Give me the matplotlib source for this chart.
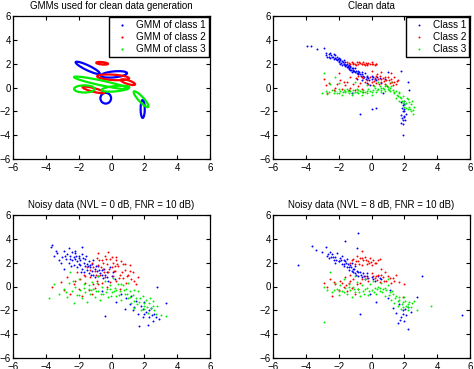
import numpy as np
import matplotlib
matplotlib.use("Agg")
import matplotlib.pyplot as plt
from matplotlib.patches import Ellipse

# ---------------- data ----------------
cls_colors = ['#0000ff', '#ff0000', '#00ee00']

# GMM components: centre x, centre y, width, height, angle (deg)
gmm1 = [(-1.45, 1.65, 1.75, 0.38, -34), (0.15, 1.1, 1.6, 0.5, 8),
        (-0.35, -0.9, 0.65, 0.9, 0), (1.9, -1.8, 0.25, 1.5, 0)]
gmm2 = [(-0.57, 2.03, 0.72, 0.2, -8), (0.1, 0.85, 1.95, 0.45, -5),
        (1.0, 0.45, 0.95, 0.3, -25), (-1.1, -0.2, 1.4, 0.3, -20)]
gmm3 = [(-0.64, 0.39, 3.42, 0.4, -16.6), (-1.65, -0.12, 1.26, 0.6, 0),
        (0.24, -0.1, 1.7, 0.45, 8), (1.8, -0.98, 1.56, 0.35, -57)]

clean1 = [(-3.9,3.5),(-3.7,3.5),(-3.3,3.2),(-2.9,3.3),(-2.8,2.9),(-2.7,2.6),(-2.6,2.8),(-2.5,2.5),(-2.5,2.9),(-2.4,2.6),
          (-2.3,2.4),(-2.3,2.8),(-2.2,2.5),(-2.1,2.3),(-2.1,2.6),(-2.0,2.2),(-2.0,2.5),(-1.9,2.4),(-1.9,2.0),(-1.8,2.2),
          (-1.8,1.9),(-1.7,2.3),(-1.7,2.0),(-1.6,1.8),(-1.6,2.1),(-1.5,1.7),(-1.5,2.0),(-1.4,1.6),(-1.4,1.9),(-1.3,1.5),
          (-1.3,1.8),(-1.2,1.6),(-1.2,1.3),(-1.1,1.5),(-1.0,1.3),(-1.0,1.6),(-0.9,1.2),(-0.8,1.4),(-0.7,1.1),(-0.6,1.3),
          (-0.5,1.0),(-0.4,1.2),(-0.3,0.9),(-0.2,0.8),(0.0,0.7),(0.1,0.9),(0.3,0.6),(0.5,0.8),(-0.6,0.6),(-0.9,0.7),
          (-2.2,2.7),(-1.9,2.3),(-1.6,1.9),(-1.3,1.7),(-1.1,1.4),(-0.8,1.2),(-2.6,2.6),(-1.45,1.8),(-0.35,0.7),(0.2,0.7),
          (-2.75,2.75),(-2.45,2.7),(-2.35,2.55),(-2.15,2.4),(-2.05,2.35),(-1.95,2.15),(-1.85,2.05),(-1.75,2.1),(-1.65,1.95),
          (-1.55,1.85),(-1.45,1.7),(-1.35,1.55),(-1.25,1.45),(-1.15,1.6),(-1.05,1.4),(-0.95,1.35),(-0.85,1.1),(-0.75,1.3),
          (-0.65,1.0),(-0.55,1.15),(-0.45,0.9),(-0.25,1.0),(-0.15,0.6),(0.05,1.0),(0.35,0.85),(0.6,0.4),(0.8,0.7),(-0.3,0.4),
          (1.8,-1.2),(1.9,-1.5),(2.0,-1.8),(1.9,-2.0),(1.8,-2.3),(2.0,-2.5),(1.9,-2.7),(1.8,-3.0),(1.9,-3.1),(2.1,-2.2),
          (2.0,-1.4),(1.9,-4.0),(2.0,-2.0),(1.85,-1.7),(2.05,-2.7),(1.95,-2.35),(1.85,-2.6),(1.95,-1.1),
          (-0.7,-2.2),(0.0,-1.8),(0.3,-1.7),(1.0,1.3),(1.8,1.4),(2.2,0.5),(2.3,-0.2),(-0.1,0.2),(0.7,-0.5),(-1.2,-0.5)]
clean2 = [(-1.5,2.1),(-1.3,2.0),(-1.2,2.1),(-1.0,2.0),(-0.9,2.1),(-0.8,1.95),(-0.7,2.05),(-0.6,2.0),(-0.5,2.1),(-0.4,1.9),
          (-0.3,2.0),(-0.2,2.05),(-0.1,1.95),(0.0,2.0),(0.2,1.9),(0.3,1.95),(-1.1,1.95),(-0.45,2.0),(0.1,2.0),
          (-1.4,2.05),(-1.15,2.05),(-0.95,1.9),(-0.75,2.1),(-0.55,1.95),(-0.35,2.05),(-0.25,1.9),(0.05,2.1),(0.25,2.0),
          (-0.8,1.0),(-0.5,0.8),(-0.3,0.6),(-0.1,0.9),(0.0,0.5),(0.2,0.8),(0.3,0.4),(0.4,0.7),(0.5,1.0),(0.6,0.5),
          (0.7,0.8),(0.8,0.3),(0.9,0.6),(1.0,0.9),(1.1,0.4),(1.2,0.7),(1.3,0.2),(1.4,0.5),(1.5,0.3),(1.6,0.6),
          (-0.2,0.3),(0.1,0.2),(0.6,1.3),(1.2,1.2),(0.25,0.95),(0.75,0.55),(-0.6,0.85),
          (-0.4,0.5),(0.15,0.55),(0.35,1.1),(0.45,0.3),(0.55,0.75),(0.85,0.9),(0.95,0.15),(1.05,0.6),(1.25,0.45),
          (1.35,0.85),(1.55,0.55),(-0.7,0.4),(-0.95,0.8),
          (-2.9,0.7),(-2.8,0.2),(-2.6,0.4),(-2.3,-0.2),(-2.1,0.3),(-1.9,0.6),(-1.8,-0.1),(-1.6,0.2),(-1.5,0.5),(-1.3,0.0),
          (-1.1,0.3),(-1.0,-0.2),(-0.8,0.1),(-2.7,-0.5),(-2.0,1.2),(-1.3,0.9),(0.0,1.4),(-0.5,-0.4),
          (-1.7,0.5),(-2.2,0.0),(-1.4,-0.2),(-0.6,-0.1)]
clean3 = [(-3.0,-0.5),(-2.9,1.2),(-2.8,-0.3),(-2.6,-0.4),(-2.5,0.3),(-2.4,-0.2),(-2.2,-0.3),(-2.1,-0.5),(-2.0,-0.1),(-1.9,-0.3),
          (-1.8,-0.6),(-1.7,-0.2),(-1.6,-0.4),(-1.5,-0.1),(-1.4,-0.5),(-1.3,-0.3),(-1.2,-0.6),(-1.1,-0.2),(-1.0,-0.4),(-0.9,-0.1),
          (-0.8,-0.5),(-0.7,-0.3),(-0.6,-0.6),(-0.5,-0.2),(-0.4,-0.4),(-0.3,-0.5),(-0.2,-0.1),(-0.1,-0.3),(0.0,-0.6),(0.1,-0.2),
          (0.2,0.0),(0.3,-0.4),(0.4,-0.1),(0.5,0.1),(0.6,-0.2),(0.7,0.0),(0.8,-0.3),(0.9,0.2),(1.0,-0.1),(1.1,-0.3),
          (1.2,0.1),(1.3,-0.2),(1.4,-0.5),(1.5,-0.3),(1.6,-0.7),(1.7,-0.5),(1.8,-0.9),(1.9,-0.7),(2.0,-1.1),(2.1,-1.3),
          (2.2,-1.0),(2.3,-1.6),(2.4,-1.4),(2.5,-1.9),(2.5,-2.2),(2.2,-1.8),(2.0,-1.6),(1.9,-1.3),(1.7,-1.1),(1.5,-0.9),
          (-2.2,0.9),(-1.0,0.5),(0.4,0.5),(1.2,0.5),(0.6,-0.05),(1.0,0.05),(-1.6,-0.3),(-0.9,-0.35),(2.3,-1.2),(2.1,-1.7),
          (-2.7,-0.55),(-2.3,-0.45),(-1.95,-0.5),(-1.75,-0.4),(-1.45,-0.3),(-1.15,-0.45),(-0.85,-0.25),(-0.55,-0.4),
          (-0.25,-0.3),(0.05,-0.4),(0.15,0.1),(0.35,-0.2),(0.55,-0.35),(0.75,-0.1),(0.85,0.1),(1.05,-0.25),(1.15,0.0),
          (1.35,-0.4),(1.55,-0.6),(1.65,-0.4),(1.75,-0.8),(1.85,-1.1),(2.05,-1.4),(2.15,-0.9),(2.35,-1.8),(2.45,-1.1),
          (2.4,-2.0),(2.6,-1.6),(-2.0,0.4),(-0.3,0.2)]

noisy0_1 = [(-3.7,3.3),(-3.6,3.5),(-3.5,2.6),(-3.3,2.8),(-3.2,2.2),(-3.0,2.5),(-2.9,3.0),(-2.8,2.3),(-2.7,2.7),(-2.6,3.2),
            (-2.6,2.0),(-2.5,2.6),(-2.4,2.9),(-2.4,2.2),(-2.3,1.8),(-2.3,2.5),(-2.2,2.8),(-2.1,2.1),(-2.1,1.6),(-2.0,2.4),
            (-2.0,1.9),(-1.9,2.2),(-1.8,1.5),(-1.8,2.7),(-1.7,2.0),(-1.7,1.2),(-1.6,1.7),(-1.6,2.3),(-1.5,1.4),(-1.5,1.9),
            (-1.4,1.1),(-1.4,2.1),(-1.3,1.6),(-1.2,1.3),(-1.2,1.9),(-1.1,1.0),(-1.0,1.5),(-1.0,0.8),(-0.9,1.3),(-0.8,1.7),
            (-0.8,0.9),(-0.7,1.1),(-0.6,1.4),(-0.5,0.7),(-0.4,1.0),(-0.3,1.2),(-0.2,0.5),(0.0,0.9),(0.2,0.6),(-1.8,3.3),
            (-2.9,1.5),(-0.1,1.6),(-2.2,2.3),(-1.9,1.8),(-1.3,1.8),
            (-3.4,3.0),(-3.1,2.0),(-2.85,2.6),(-2.55,2.3),(-2.45,1.7),(-2.25,3.0),(-2.15,2.6),(-1.95,2.6),(-1.85,1.2),
            (-1.75,2.4),(-1.55,2.6),(-1.45,1.7),(-1.25,1.0),(-1.15,2.2),(-0.95,1.7),(-0.75,1.4),(-0.55,1.0),(-0.45,1.5),
            (-0.25,0.8),(0.1,1.2),
            (0.6,-0.6),(0.9,-1.0),(1.1,-1.5),(1.3,-2.0),(1.5,-1.2),(1.6,-2.3),(1.8,-1.6),(1.9,-2.6),(2.0,-1.3),(2.1,-2.1),
            (2.2,-3.2),(2.3,-2.6),(2.4,-1.8),(2.5,-2.9),(2.6,-2.3),(2.7,-2.6),(1.7,-3.3),(3.3,-1.4),(2.8,0.0),(-0.4,-2.5),
            (0.3,-1.3),(1.2,-0.8),(-0.6,-0.4),(0.8,-1.9),(2.9,-2.7),(1.4,-1.7),(2.0,-2.3),(2.3,-2.0),(1.9,-1.9),(2.45,-2.4)]
noisy0_2 = [(-3.6,0.0),(-3.1,0.4),(-2.7,0.8),(-2.5,-0.6),(-2.3,0.2),(-2.1,1.2),(-2.0,-0.2),(-1.9,0.6),(-1.8,-0.8),(-1.7,1.0),
            (-1.6,0.3),(-1.5,1.6),(-1.4,-0.3),(-1.3,0.8),(-1.2,2.0),(-1.1,0.2),(-1.0,1.3),(-0.9,2.4),(-0.9,0.5),(-0.8,1.8),
            (-0.7,1.0),(-0.6,2.2),(-0.6,0.3),(-0.5,1.5),(-0.4,2.6),(-0.4,0.8),(-0.3,1.9),(-0.2,1.2),(-0.1,2.3),(-0.1,0.4),
            (0.0,1.6),(0.1,2.0),(0.1,0.9),(0.2,1.3),(0.3,2.5),(0.3,0.5),(0.4,1.7),(0.5,1.0),(0.6,2.1),(0.7,0.7),
            (0.8,1.4),(0.9,0.3),(1.0,1.0),(1.1,1.8),(1.2,0.6),(1.3,1.2),(1.5,0.2),(1.6,0.8),(-0.8,2.8),(-0.2,2.9),
            (-1.2,-0.6),(0.5,-0.2),(-2.9,-0.3),(-1.0,-0.1),(-0.3,0.0),(-0.5,2.0),(0.2,1.7),(-1.1,1.6),(0.7,1.9),
            (-1.3,1.4),(-0.95,1.0),(-0.75,2.2),(-0.65,1.6),(-0.45,1.2),(-0.35,2.3),(-0.15,1.5),(0.05,2.5),(0.15,1.3),
            (0.35,1.9),(0.45,0.7),(0.65,1.2),(0.85,1.9),(0.95,0.9),(1.15,1.3),(1.35,0.5),(-1.6,0.9),(-2.2,0.5),(-0.8,0.2),
            (0.25,2.2)]
noisy0_3 = [(-3.8,-1.0),(-3.5,0.2),(-3.2,-0.6),(-2.9,-0.2),(-2.7,-0.9),(-2.6,0.3),(-2.5,1.2),(-2.4,-0.4),(-2.3,-1.4),(-2.2,0.0),
            (-2.1,-0.7),(-2.0,0.6),(-1.9,-0.3),(-1.8,-1.0),(-1.7,0.2),(-1.6,-0.5),(-1.5,-1.3),(-1.4,0.1),(-1.3,-0.6),(-1.2,0.4),
            (-1.1,-0.2),(-1.0,-0.9),(-0.9,0.3),(-0.8,-0.4),(-0.7,-1.1),(-0.6,0.0),(-0.5,-0.6),(-0.4,0.5),(-0.3,-0.2),(-0.2,-0.9),
            (-0.1,0.1),(0.0,-0.5),(0.1,0.7),(0.2,-0.1),(0.3,-0.8),(0.4,0.2),(0.5,-0.4),(0.6,-1.1),(0.7,0.1),(0.8,-0.6),
            (0.9,-0.2),(1.0,-1.0),(1.1,-0.4),(1.2,-1.4),(1.3,-0.7),(1.4,-1.8),(1.5,-1.0),(1.6,-0.4),(1.7,-1.3),(1.8,-2.0),
            (1.9,-0.8),(2.0,-1.6),(2.1,-1.1),(2.2,-2.2),(2.3,-1.4),(2.4,-1.8),(2.5,-1.2),(2.6,-2.0),(2.8,-1.6),(3.0,-2.4),
            (3.3,-2.5),(1.0,0.3),(-0.8,0.9),(0.3,-0.3),(1.4,-1.2),(2.0,-1.9),(-1.4,-0.2),
            (-2.8,-0.5),(-2.35,0.5),(-1.95,-0.7),(-1.65,-0.1),(-1.25,-0.3),(-0.95,-0.4),(-0.65,-0.6),(-0.35,-0.5),
            (-0.05,-0.8),(0.15,-0.4),(0.45,-0.7),(0.75,-0.3),(0.95,-0.6),(1.15,-0.9),(1.35,-0.3),(1.55,-1.5),(1.75,-1.0),
            (1.95,-1.4),(2.15,-1.7),(2.35,-1.0),(2.55,-1.6),(2.7,-2.3),(0.6,0.2),(-0.1,-0.2)]

noisy8_1 = [(-4.5,1.8),(-3.6,3.4),(-3.4,3.1),(-3.0,2.9),(-2.8,3.3),(-2.7,2.6),(-2.6,2.4),(-2.5,2.9),(-2.4,2.7),(-2.3,2.2),
            (-2.2,2.5),(-2.1,2.8),(-2.0,2.1),(-1.9,2.4),(-1.8,1.9),(-1.8,2.6),(-1.7,1.7),(-1.6,2.1),(-1.5,1.6),(-1.5,2.3),
            (-1.4,1.4),(-1.3,1.8),(-1.2,1.3),(-1.2,2.0),(-1.1,1.5),(-1.0,1.1),(-1.0,1.7),(-0.9,1.3),(-0.8,0.9),(-0.7,1.2),
            (-0.6,0.8),(-0.5,1.1),(-0.4,0.6),(-0.3,0.9),(-0.2,0.7),(0.0,0.8),(0.2,0.5),(0.4,0.9),(0.6,0.6),(-1.6,3.8),
            (-0.8,4.5),(-0.9,3.2),(-2.2,2.0),(-1.7,2.2),(-1.35,1.6),(-2.45,2.5),
            (-2.65,2.75),(-2.35,2.45),(-2.15,2.25),(-1.95,2.15),(-1.85,2.25),(-1.65,1.85),(-1.55,1.95),(-1.45,1.85),
            (-1.25,1.6),(-1.15,1.2),(-1.05,1.45),(-0.95,1.0),(-0.85,1.25),(-0.65,1.0),(-0.45,0.85),(-0.25,1.1),(0.1,0.6),
            (0.5,0.7),
            (1.0,-1.0),(1.3,-1.8),(1.5,-2.2),(1.7,-1.5),(1.8,-2.6),(1.9,-2.0),(2.0,-2.9),(2.1,-2.4),(2.2,-1.7),(2.2,-3.6),
            (2.4,-2.1),(1.6,-3.1),(3.1,0.9),(5.5,-2.4),(-0.7,-2.3),(0.3,-1.3),(-0.1,-0.6),(2.8,-0.9),(1.1,-0.3),
            (1.9,-2.3),(2.05,-1.9),(1.75,-2.8)]
noisy8_2 = [(-1.3,2.0),(-1.1,2.3),(-1.0,1.9),(-0.9,2.6),(-0.8,2.1),(-0.7,2.4),(-0.6,1.8),(-0.5,2.2),(-0.4,2.5),(-0.3,1.9),
            (-0.2,2.1),(-0.1,2.4),(0.0,1.8),(0.1,2.2),(0.3,2.0),(0.5,2.3),(-0.6,3.0),(-0.4,0.9),(-0.2,0.5),(0.0,1.1),
            (0.2,0.7),(0.4,1.0),(0.5,0.4),(0.7,0.8),(0.8,1.2),(0.9,0.5),(1.0,0.9),(1.2,0.3),(1.3,0.7),(1.5,1.0),
            (1.7,0.4),(-0.6,0.6),(0.6,1.5),(-0.15,2.0),(0.3,0.9),
            (-1.2,2.2),(-0.95,2.15),(-0.75,1.9),(-0.55,2.4),(-0.35,2.2),(-0.05,2.05),(0.2,1.95),(0.4,2.2),(-0.3,0.7),
            (0.1,0.9),(0.35,0.55),(0.6,1.0),(0.75,0.5),(1.1,0.7),(1.4,0.5),
            (-2.9,0.3),(-2.7,0.0),(-2.5,0.6),(-2.2,0.2),(-2.0,-0.3),(-1.9,0.5),(-1.7,0.0),(-1.6,0.8),(-1.5,-0.4),(-1.4,0.3),
            (-1.2,-0.1),(-1.1,0.6),(-1.0,-0.6),(-0.9,0.2),(-0.8,-0.2),(-1.3,1.0),(2.0,0.2),(1.9,-0.9),(-2.4,-0.8),
            (-1.8,0.3),(-1.3,0.5),(-2.3,0.4),(-1.55,0.1),(-0.7,0.3)]
noisy8_3 = [(-2.9,-3.0),(-2.9,0.0),(-2.7,-0.3),(-2.5,1.2),(-2.4,-0.5),(-2.2,0.3),(-2.1,-0.2),(-2.0,-0.7),(-1.9,0.1),(-1.8,-0.4),
            (-1.7,0.6),(-1.6,-0.1),(-1.5,-0.6),(-1.4,0.2),(-1.3,-0.3),(-1.2,-0.9),(-1.1,0.0),(-1.0,-0.5),(-0.9,0.4),(-0.8,-0.2),
            (-0.7,-0.8),(-0.6,0.1),(-0.5,-0.4),(-0.4,0.6),(-0.3,-0.1),(-0.2,-0.7),(-0.1,0.2),(0.0,-0.3),(0.1,0.5),(0.2,-0.1),
            (0.3,-0.6),(0.4,0.0),(0.5,-0.4),(0.6,0.3),(0.7,-0.2),(0.8,-0.8),(0.9,-0.3),(1.0,0.1),(1.1,-0.5),(1.2,-1.1),
            (1.3,-0.6),(1.4,-1.4),(1.5,-0.8),(1.6,-1.6),(1.7,-1.1),(1.8,-1.9),(1.9,-1.3),(2.0,-0.9),(2.1,-1.6),(2.2,-2.0),
            (2.3,-1.3),(2.4,-1.7),(2.6,-1.2),(2.8,-2.0),(3.6,-1.6),(1.0,0.6),(-1.0,0.9),(0.5,-0.1),(1.6,-1.2),(-0.4,-0.2),
            (-2.3,-0.3),(-1.95,-0.35),(-1.65,-0.5),(-1.35,0.0),(-1.05,-0.2),(-0.75,-0.5),(-0.45,-0.6),(-0.15,-0.4),
            (0.15,-0.5),(0.35,-0.2),(0.65,-0.5),(0.85,-0.1),(1.05,-0.7),(1.25,-0.4),(1.45,-1.0),(1.65,-0.9),(1.85,-1.5),
            (2.05,-1.2),(2.25,-1.7),(2.45,-1.4),(2.2,-1.5),(1.9,-1.7)]

titles = ['GMMs used for clean data generation', 'Clean data',
          'Noisy data (NVL = 0 dB, FNR = 10 dB)', 'Noisy data (NVL = 8 dB, FNR = 10 dB)']
ticks = [-6, -4, -2, 0, 2, 4, 6]

# ---------------- plotting ----------------
plt.rcParams['font.family'] = ['Liberation Sans', 'DejaVu Sans']
plt.rcParams['font.size'] = 7

fig = plt.figure(figsize=(4.74, 3.69), dpi=100)
W, H = 474.0, 369.0
boxes = [(13, 16, 210, 159), (273, 16, 470, 159), (13, 215, 210, 358), (273, 215, 470, 358)]
axes = []
for (x0, y0, x1, y1) in boxes:
    ax = fig.add_axes([x0 / W, 1 - y1 / H, (x1 - x0) / W, (y1 - y0) / H])
    ax.set_xlim(-6, 6)
    ax.set_ylim(-6, 6)
    ax.set_xticks(ticks)
    ax.set_yticks(ticks)
    ax.tick_params(direction='in', length=3, width=0.8, top=True, right=True, labelsize=7)
    ax.tick_params(axis='x', pad=3)
    ax.tick_params(axis='y', pad=1.5)
    for s in ax.spines.values():
        s.set_linewidth(0.9)
    axes.append(ax)

def pts(ax, lst, c, label=None):
    a = np.array(lst)
    ax.plot(a[:, 0], a[:, 1], '.', color=c, ms=2.8, mew=0, label=label, ls='none')

# panel 1: GMM ellipses
ax = axes[0]
for k, comps in enumerate([gmm1, gmm2, gmm3]):
    for (cx, cy, w, h, ang) in comps:
        ax.add_patch(Ellipse((cx, cy), w, h, angle=ang, fill=False, ec=cls_colors[k], lw=1.6))
    ax.plot([], [], '.', color=cls_colors[k], ms=3.2, mew=0, ls='none', label='GMM of class %d' % (k + 1))

pts(axes[1], clean1, cls_colors[0], 'Class 1')
pts(axes[1], clean2, cls_colors[1], 'Class 2')
pts(axes[1], clean3, cls_colors[2], 'Class 3')
for lst, c in zip([noisy0_1, noisy0_2, noisy0_3], cls_colors):
    pts(axes[2], lst, c)
for lst, c in zip([noisy8_1, noisy8_2, noisy8_3], cls_colors):
    pts(axes[3], lst, c)

for ax, t in zip(axes, titles):
    ax.set_title(t, fontsize=7, pad=5)

for ax in axes[:2]:
    leg = ax.legend(loc='upper right', bbox_to_anchor=(0.995, 0.99), borderaxespad=0,
                    fancybox=False, framealpha=1, edgecolor='black', fontsize=7.2,
                    handlelength=2.0, handletextpad=0.4, borderpad=0.3, labelspacing=0.2,
                    markerscale=1.0)
    leg.get_frame().set_linewidth(1.0)

fig.savefig('out.png', dpi=100)
